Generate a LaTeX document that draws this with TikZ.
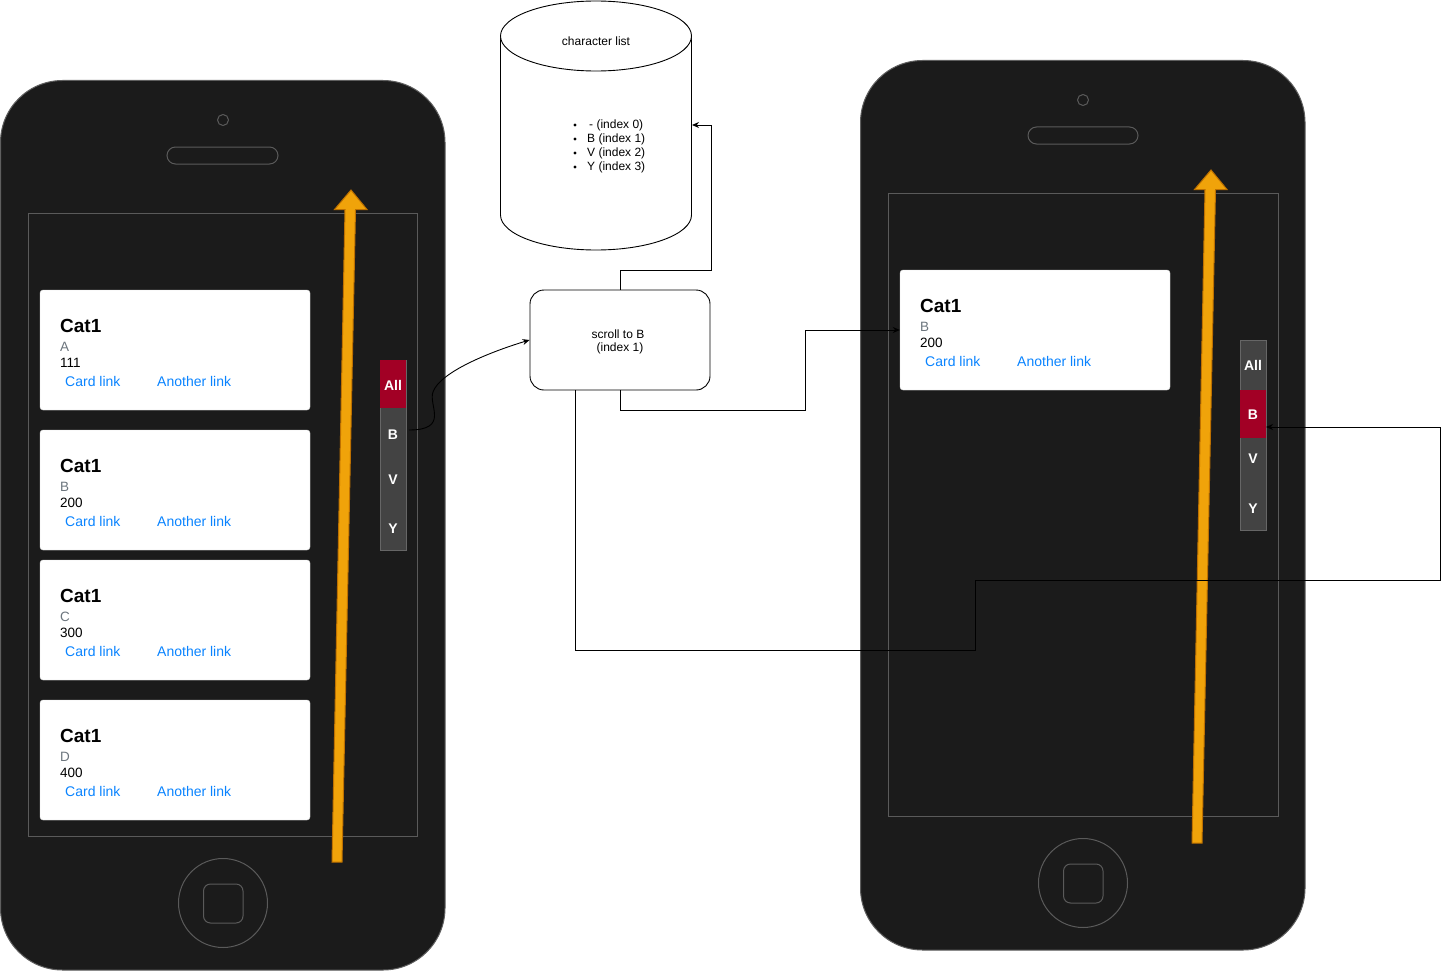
\documentclass[tikz,border=0pt]{standalone}
\usepackage{fontspec}
\setmainfont{Liberation Sans}
\usetikzlibrary{arrows.meta}
\definecolor{phonebg}{HTML}{1B1B1B}
\definecolor{phoneline}{HTML}{5A5A5A}
\definecolor{segred}{HTML}{A20025}
\definecolor{seggray}{HTML}{434343}
\definecolor{linkblue}{HTML}{0A84FF}
\definecolor{subgray}{HTML}{6C757D}
\definecolor{orfill}{HTML}{F0A30A}
\definecolor{orline}{HTML}{BD7000}
\tikzset{
  phonebody/.style={fill=phonebg,draw=phonebg!70!white,line width=1pt,rounded corners=62pt},
  screen/.style={draw=phoneline,line width=1pt},
  detail/.style={draw=phoneline,line width=1pt},
  cardbox/.style={rectangle,fill=white,draw=black!15,rounded corners=3pt,minimum width=270pt,minimum height=120pt,inner sep=0pt},
  cattitle/.style={anchor=west,inner sep=0pt,font=\fontsize{19}{21}\selectfont\bfseries},
  catsub/.style={anchor=west,inner sep=0pt,text=subgray,font=\fontsize{13.5}{15}\selectfont},
  catnum/.style={anchor=west,inner sep=0pt,font=\fontsize{13.5}{15}\selectfont},
  catlink/.style={anchor=west,inner sep=0pt,text=linkblue,font=\fontsize{14}{16}\selectfont},
  segtxt/.style={text=white,inner sep=0pt,font=\fontsize{14}{16}\selectfont\bfseries},
  conn/.style={draw=black,line width=0.9pt,-{Stealth[length=7pt,width=6pt]}},
  small/.style={font=\fontsize{12}{14}\selectfont,inner sep=0pt},
  orarrow/.style={fill=orfill,draw=orline,line width=1pt,line join=miter}
}
\newcommand\mycard[5]{%
  \node[cardbox] (#5) at ({#1+135},{#2+60}) {};
  \node[cattitle] (#5t) at ({#1+20},{#2+36}) {Cat1};
  \node[catsub] (#5s) at ({#1+20},{#2+57}) {#3};
  \node[catnum] (#5n) at ({#1+20},{#2+73}) {#4};
  \node[catlink] (#5a) at ({#1+25},{#2+91}) {Card link};
  \node[catlink] (#5b) at ({#1+117},{#2+91}) {Another link};
}
\begin{document}
\begin{tikzpicture}[x=1pt,y=-1pt]
\useasboundingbox (0,0) rectangle (1450,971);

% ---------- left phone ----------
\draw[phonebody] (0.5,80.5) rectangle (445,970);
\draw[screen] (28,213) rectangle (417,836);
\draw[detail] (223,120) circle[radius=5.5];
\draw[detail,rounded corners=8.5pt] (167,147) rectangle (278,164);
\draw[detail] (223,903) circle[radius=44.5];
\draw[detail,rounded corners=7pt] (203.5,884) rectangle (243,923);

\mycard{40}{290}{A}{111}{c1}
\mycard{40}{430}{B}{200}{c2}
\mycard{40}{560}{C}{300}{c3}
\mycard{40}{700}{D}{400}{c4}

% left index bar
\fill[seggray] (380,360) rectangle (406,550);
\draw[black!60,line width=0.6pt] (380,360) rectangle (406,550);
\fill[segred] (380,360) rectangle (406,408);
\node[segtxt] (lAll) at (393,385) {All};
\node[segtxt] (lBt) at (393,435) {B};
\node[segtxt] (lV) at (393,480) {V};
\node[segtxt] (lY) at (393,529) {Y};
\coordinate (lB) at (409,430);

% left orange arrow
\draw[orarrow] (332,862) -- (345,209.5) -- (334.5,209.5) -- (351,190) -- (367,209.5) -- (355.5,209.5) -- (342,862) -- cycle;

% ---------- right phone ----------
\draw[phonebody] (860.5,60.5) rectangle (1305,950);
\draw[screen] (888,193) rectangle (1278,816);
\draw[detail] (1083,100) circle[radius=5.5];
\draw[detail,rounded corners=8.5pt] (1028,127) rectangle (1138,144);
\draw[detail] (1083,883) circle[radius=44.5];
\draw[detail,rounded corners=7pt] (1063.5,864) rectangle (1103,903);

\mycard{900}{270}{B}{200}{rc}

% right index bar
\fill[seggray] (1240,340) rectangle (1266,530);
\draw[black!60,line width=0.6pt] (1240,340) rectangle (1266,530);
\fill[segred] (1240,390) rectangle (1266,438);
\node[segtxt] (rAll) at (1253,365) {All};
\node[segtxt] (rBt) at (1253,415) {B};
\node[segtxt] (rV) at (1253,459) {V};
\node[segtxt] (rY) at (1253,509) {Y};
\coordinate (rB) at (1266,427);

% right orange arrow
\draw[orarrow] (1192,843) -- (1205,189.5) -- (1194.5,189.5) -- (1211,170) -- (1227,189.5) -- (1215.5,189.5) -- (1202,843) -- cycle;

% ---------- cylinder ----------
\draw[fill=white,line width=0.9pt] (500.5,36) -- (500.5,215)
  arc[start angle=180,end angle=0,x radius=95.5,y radius=35] -- (691.5,36);
\draw[fill=white,line width=0.9pt] (596,36) ellipse[x radius=95.5,y radius=35];
\node[small] (cylt) at (596,41) {character list};
\node[small,anchor=west] (i0) at (587,125) {\,- (index 0)};
\node[small,anchor=west] (i1) at (587,139) {B (index 1)};
\node[small,anchor=west] (i2) at (587,153) {V (index 2)};
\node[small,anchor=west] (i3) at (587,167) {Y (index 3)};
\foreach \yy in {125,139,153,167} \fill (575,\yy) circle[radius=1.6];
\coordinate (cylR) at (692,125);

% ---------- scroll box ----------
\node[draw,line width=0.9pt,fill=white,rounded corners=14pt,minimum width=180pt,minimum height=100pt,inner sep=0pt,font=\fontsize{12}{14}\selectfont] (scroll) at (620,340) {};
\node[small] (st1) at (618,334) {scroll to B};
\node[small] (st2) at (620,348) {(index 1)};

% ---------- connectors ----------
\draw[conn] (lB) .. controls (450,430) and (428,405) .. (433,392)
  .. controls (440,372) and (490,352) .. (scroll.west);
\draw[conn] (scroll.north) -- (620,270) -- (711,270) -- (711,125) -- (cylR);
\draw[conn] (scroll.south) -- (620,410) -- (805,410) -- (805,330) -- (rc.west);
\draw[conn] ([xshift=-45pt]scroll.south) -- (575,650) -- (975,650) -- (975,580) -- (1440,580) -- (1440,427) -- (rB);
\end{tikzpicture}
\end{document}
